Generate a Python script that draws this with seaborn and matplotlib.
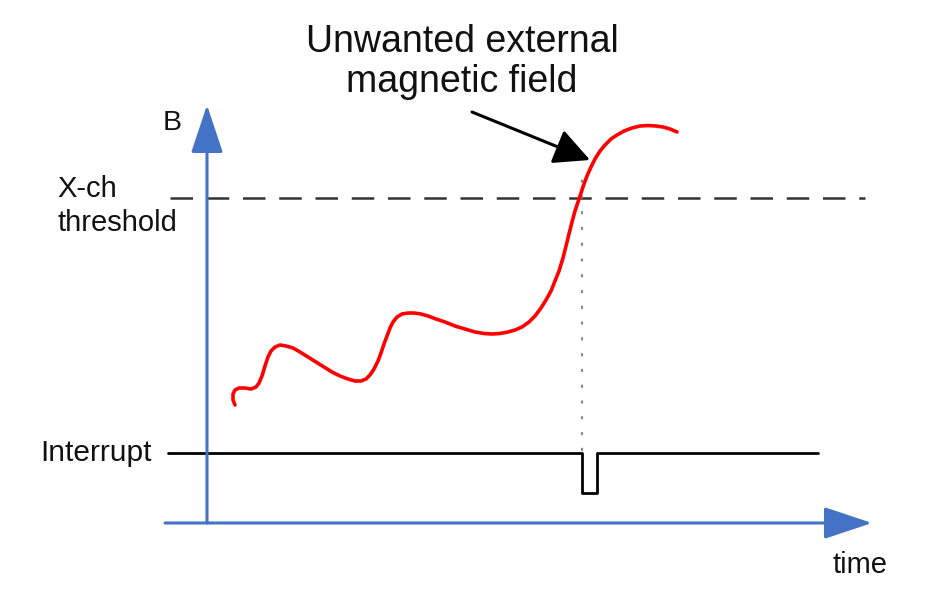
import numpy as np
import pandas as pd
import matplotlib
matplotlib.use("Agg")
import matplotlib.pyplot as plt
import seaborn as sns

# ---- data (schematic units: time from the B-axis, B from the time-axis) ----
field_t = [28, 26, 26, 28, 32, 38, 44, 49, 52, 55,
           58, 61, 64, 68, 73, 79, 86, 93, 101, 109,
           117, 125, 133, 141, 148, 154, 159, 163, 167, 171,
           174, 177, 180, 183, 186, 190, 195, 201, 207, 214,
           221, 229, 238, 248, 258, 268, 277, 285, 293, 301,
           308, 315, 322, 328, 334, 339, 344, 348, 352, 356,
           359, 362, 365, 368, 371, 374, 377, 380, 384, 388,
           393, 398, 404, 410, 417, 425, 433, 441, 449, 456,
           463, 470]
field_b = [118, 123, 129, 133, 135, 135, 134, 136, 140, 147,
           157, 166, 172, 176, 178, 177, 175, 171, 166, 161,
           156, 151, 147, 144, 142, 142, 144, 148, 154, 162,
           170, 179, 187, 195, 201, 206, 209, 210, 210, 209,
           207, 204, 201, 197, 194, 191, 189.5, 189, 189.5, 191,
           193, 196, 201, 207, 215, 223, 232, 242, 252, 265,
           277, 289, 301, 312, 321, 330, 339, 347, 356, 364,
           372, 378, 384, 388, 392, 395, 397, 397.5, 397, 396,
           394, 391]

interrupt_t = [-39, 375, 375, 390, 390, 611]
interrupt_lvl = [70, 70, 30, 30, 70, 70]

threshold_level = 325
crossing_t = 375

df_field = pd.DataFrame({"t": field_t, "B": field_b})
df_int = pd.DataFrame({"t": interrupt_t, "v": interrupt_lvl})

sns.set_theme(style="white")
plt.rcParams["font.family"] = ["Liberation Sans", "DejaVu Sans"]

fig = plt.figure(figsize=(9.5, 5.93), dpi=100)
ax = fig.add_axes([0, 0, 1, 1])
ax.set_xlim(-207, 743)
ax.set_ylim(-70, 523)
ax.axis("off")

blue = "#4472c4"

# axes arrows
ax.annotate("", xy=(0, 418), xytext=(0, 0),
            arrowprops=dict(arrowstyle="-|>,head_length=1.5,head_width=0.5",
                            mutation_scale=20, lw=2.2, color=blue,
                            shrinkA=0, shrinkB=0))
ax.annotate("", xy=(665, 0), xytext=(-42, 0),
            arrowprops=dict(arrowstyle="-|>,head_length=1.5,head_width=0.5",
                            mutation_scale=20, lw=2.2, color=blue,
                            shrinkA=0, shrinkB=0))

# threshold dashed line
ax.plot([-37, 658], [threshold_level, threshold_level], color="#333333", lw=1.8,
        dashes=(9, 5.5))

# dotted vertical at crossing
ax.plot([crossing_t, crossing_t], [73, 350], color="#888888", lw=1.6,
        dashes=(0.6, 6.5), dash_capstyle="round")

# interrupt line
sns.lineplot(data=df_int, x="t", y="v", sort=False, estimator=None, color="black",
             lw=2, ax=ax)

# field curve
sns.lineplot(data=df_field, x="t", y="B", sort=False, estimator=None,
             color="#ff0000", lw=2.6, ax=ax, solid_joinstyle="round",
             solid_capstyle="round")
ax.set_xlabel("")
ax.set_ylabel("")

# annotation arrow
ax.annotate("", xy=(383, 363), xytext=(265, 411),
            arrowprops=dict(arrowstyle="-|>,head_length=1.1,head_width=0.55",
                            mutation_scale=20, lw=2.2, color="black",
                            shrinkA=0, shrinkB=0))

# texts
tc = "#111111"
ax.text(255, 481, "Unwanted external", ha="center", va="center", fontsize=27,
        color=tc)
ax.text(255, 441, "magnetic field", ha="center", va="center", fontsize=27,
        color=tc)
ax.text(-35, 400, "B", ha="center", va="center", fontsize=20.5, color=tc)
ax.text(-150, 334, "X-ch", ha="left", va="center", fontsize=21, color=tc)
ax.text(-150, 300, "threshold", ha="left", va="center", fontsize=21, color=tc)
ax.text(-167, 70, "Interrupt", ha="left", va="center", fontsize=21.5, color=tc)
ax.text(653, -42, "time", ha="center", va="center", fontsize=21, color=tc)

fig.savefig("out.png", dpi=100, facecolor="white")
